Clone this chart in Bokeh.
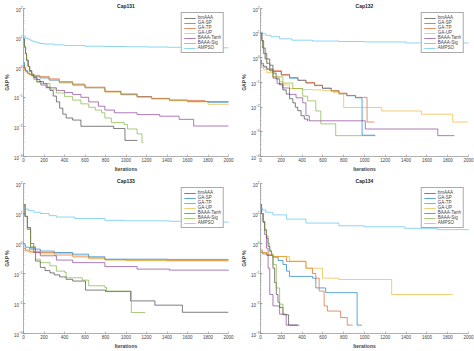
from bokeh.plotting import figure
from bokeh.layouts import column, row
from bokeh.models import Range1d, Legend, LegendItem, FixedTicker
from bokeh.embed import file_html
from bokeh.resources import INLINE

# ---------------- data (iterations, GAP %) ----------------
names = ["bmAAA", "GA-SP", "GA-TP", "GA-UP", "BAAA-Tanh", "BAAA-Sig", "AMPSO"]
colors = ["#333333", "#0072BD", "#D95319", "#EDB120", "#7E2F8E", "#77AC30", "#4DBEEE"]
x_ticks = [0, 200, 400, 600, 800, 1000, 1200, 1400, 1600, 1800, 2000]

# Cap131
c131_bmaaa_it = [0, 10, 20, 30, 45, 60, 80, 100, 130, 160, 195, 230, 258, 290, 321, 353, 384, 416, 480, 560, 880, 990, 1110]
c131_bmaaa_gap = [9, 5, 3, 1.8, 1.1, 0.8, 0.6, 0.48, 0.4, 0.34, 0.29, 0.22, 0.17, 0.11, 0.07, 0.043, 0.027, 0.02, 0.017, 0.0105, 0.0088, 0.0035, 0.0035]
c131_gasp_it = [0, 10, 20, 40, 60, 100, 160, 250, 350, 480, 600, 794, 950, 1108, 1250, 1424, 1600, 1800, 2000]
c131_gasp_gap = [1.5, 1.0, 0.8, 0.65, 0.58, 0.5, 0.45, 0.38, 0.31, 0.26, 0.21, 0.155, 0.125, 0.105, 0.09, 0.077, 0.072, 0.068, 0.066]
c131_gatp_it = [0, 10, 20, 40, 60, 100, 160, 250, 350, 480, 600, 794, 950, 1108, 1250, 1424, 1600, 1770, 2000]
c131_gatp_gap = [1.2, 0.9, 0.75, 0.65, 0.6, 0.55, 0.5, 0.42, 0.34, 0.28, 0.22, 0.16, 0.13, 0.105, 0.092, 0.082, 0.078, 0.072, 0.068]
c131_gaup_it = [0, 10, 20, 40, 60, 100, 160, 250, 350, 480, 600, 794, 950, 1108, 1250, 1424, 1600, 1800, 2000]
c131_gaup_gap = [1.0, 0.8, 0.7, 0.62, 0.58, 0.52, 0.47, 0.39, 0.32, 0.26, 0.21, 0.15, 0.12, 0.1, 0.088, 0.078, 0.07, 0.058, 0.053]
c131_tanh_it = [0, 10, 20, 30, 45, 60, 80, 100, 130, 170, 220, 321, 400, 480, 560, 636, 731, 794, 888, 1108, 1329, 1518, 1660, 2000]
c131_tanh_gap = [9, 5, 3, 1.8, 1.1, 0.75, 0.55, 0.45, 0.34, 0.26, 0.21, 0.17, 0.145, 0.125, 0.1, 0.07, 0.05, 0.037, 0.03, 0.026, 0.023, 0.018, 0.0107, 0.0107]
c131_sig_it = [0, 10, 20, 30, 45, 60, 80, 100, 130, 164, 258, 321, 400, 480, 560, 636, 700, 762, 794, 857, 983, 1014, 1108, 1156, 1170]
c131_sig_gap = [9, 5, 3, 1.8, 1.1, 0.75, 0.52, 0.4, 0.32, 0.29, 0.19, 0.14, 0.105, 0.08, 0.06, 0.046, 0.037, 0.03, 0.02, 0.014, 0.012, 0.0085, 0.0058, 0.003, 0.003]
c131_ampso_it = [0, 10, 20, 40, 60, 80, 100, 130, 160, 200, 300, 400, 600, 800, 1000, 1200, 1400, 1600, 1800, 2000]
c131_ampso_gap = [12, 11, 10, 9.3, 8.6, 8, 7.5, 7, 6.6, 6.3, 5.9, 5.6, 5.3, 5.2, 5.1, 5.0, 4.9, 4.8, 4.7, 4.6]

# Cap132
c132_bmaaa_it = [0, 15, 30, 45, 60, 89, 120, 150, 184, 215, 247, 280, 311, 335, 358, 390, 421, 453]
c132_bmaaa_gap = [10, 5, 2.5, 1.5, 0.9, 0.5, 0.24, 0.14, 0.08, 0.05, 0.034, 0.022, 0.015, 0.01, 0.0072, 0.0045, 0.0033, 0.0027]
c132_gasp_it = [0, 10, 30, 60, 120, 200, 279, 360, 437, 520, 596, 680, 754, 830, 913, 976, 977, 1103]
c132_gasp_gap = [0.8, 0.6, 0.45, 0.35, 0.28, 0.2, 0.15, 0.12, 0.095, 0.075, 0.057, 0.045, 0.035, 0.029, 0.024, 0.018, 0.00073, 0.00073]
c132_gatp_it = [0, 10, 30, 60, 120, 200, 279, 360, 437, 520, 596, 680, 754, 830, 913, 1024, 1025, 1097]
c132_gatp_gap = [0.6, 0.5, 0.42, 0.35, 0.3, 0.21, 0.16, 0.125, 0.1, 0.078, 0.06, 0.047, 0.037, 0.03, 0.025, 0.019, 0.0025, 0.0025]
c132_gaup_it = [0, 10, 30, 60, 120, 180, 215, 279, 400, 500, 596, 700, 754, 800, 1166, 1547, 1848, 2000]
c132_gaup_gap = [0.45, 0.4, 0.33, 0.25, 0.17, 0.11, 0.08, 0.057, 0.052, 0.05, 0.047, 0.04, 0.034, 0.0097, 0.007, 0.0052, 0.0025, 0.0025]
c132_tanh_it = [0, 10, 20, 30, 45, 60, 89, 120, 160, 215, 279, 342, 406, 437, 469, 1008, 1705, 1864]
c132_tanh_gap = [10, 5, 2.5, 1.5, 0.9, 0.6, 0.3, 0.15, 0.09, 0.06, 0.033, 0.024, 0.015, 0.0045, 0.0028, 0.0013, 0.0007, 0.0007]
c132_sig_it = [0, 10, 20, 30, 45, 60, 89, 120, 215, 311, 406, 453, 532, 580, 723, 1103]
c132_sig_gap = [10, 5, 2.5, 1.5, 0.9, 0.6, 0.3, 0.17, 0.095, 0.057, 0.028, 0.018, 0.007, 0.0021, 0.0007, 0.0007]
c132_ampso_it = [0, 20, 50, 100, 184, 300, 500, 754, 1000, 1400, 2000]
c132_ampso_gap = [11, 9.5, 8.2, 7.2, 5.9, 5.2, 4.8, 4.6, 4.4, 4.0, 3.7]

# Cap133
c133_bmaaa_it = [0, 15, 38, 69, 117, 164, 210, 258, 300, 353, 416, 480, 605, 800, 1045, 1282, 1550, 2000]
c133_bmaaa_gap = [20, 8, 3.4, 0.72, 0.26, 0.16, 0.125, 0.105, 0.09, 0.077, 0.064, 0.056, 0.028, 0.025, 0.0122, 0.0088, 0.0051, 0.0051]
c133_gasp_it = [0, 20, 60, 164, 300, 480, 636, 794, 1000, 1400, 2000]
c133_gasp_gap = [0.9, 0.75, 0.65, 0.56, 0.5, 0.44, 0.36, 0.3, 0.3, 0.295, 0.29]
c133_gatp_it = [0, 20, 60, 164, 300, 480, 636, 794, 1000, 1400, 2000]
c133_gatp_gap = [0.7, 0.6, 0.55, 0.5, 0.45, 0.38, 0.33, 0.29, 0.28, 0.27, 0.26]
c133_gaup_it = [0, 20, 60, 164, 300, 480, 636, 794, 1000, 1400, 2000]
c133_gaup_gap = [0.6, 0.55, 0.5, 0.45, 0.4, 0.35, 0.31, 0.28, 0.27, 0.265, 0.26]
c133_tanh_it = [0, 15, 38, 69, 100, 164, 321, 480, 794, 1108, 1424, 2000]
c133_tanh_gap = [20, 8, 3, 1.0, 0.5, 0.39, 0.28, 0.23, 0.17, 0.14, 0.13, 0.12]
c133_sig_it = [0, 15, 38, 69, 117, 164, 258, 321, 400, 416, 573, 636, 794, 810, 1052, 1187]
c133_sig_gap = [20, 8, 3, 0.8, 0.3, 0.23, 0.18, 0.12, 0.11, 0.072, 0.06, 0.039, 0.034, 0.026, 0.005, 0.005]
c133_ampso_it = [0, 20, 50, 100, 164, 250, 321, 500, 794, 1000, 1424, 1800, 2000]
c133_ampso_gap = [16, 14, 12.5, 11, 10, 8.5, 7.6, 6.8, 5.9, 5.7, 5.5, 5.2, 4.9]

# Cap134
c134_bmaaa_it = [0, 10, 25, 40, 57, 73, 89, 105, 120, 136, 152, 168, 184, 216, 270, 358]
c134_bmaaa_gap = [20, 10, 5.4, 2.8, 1.5, 0.8, 0.55, 0.4, 0.15, 0.05, 0.02, 0.011, 0.0074, 0.0042, 0.0019, 0.0019]
c134_gasp_it = [0, 20, 60, 120, 170, 216, 250, 279, 500, 532, 627, 928, 929, 976]
c134_gasp_gap = [0.5, 0.45, 0.4, 0.35, 0.27, 0.2, 0.12, 0.08, 0.07, 0.033, 0.023, 0.023, 0.0019, 0.0019]
c134_gatp_it = [0, 20, 60, 120, 250, 437, 500, 532, 564, 612, 643, 770, 834, 887]
c134_gatp_gap = [0.6, 0.5, 0.42, 0.37, 0.25, 0.15, 0.1, 0.07, 0.026, 0.0083, 0.0056, 0.0034, 0.0019, 0.0019]
c134_gaup_it = [0, 20, 60, 120, 279, 437, 596, 754, 1261, 1848]
c134_gaup_gap = [0.55, 0.5, 0.42, 0.37, 0.26, 0.15, 0.07, 0.063, 0.02, 0.02]
c134_tanh_it = [0, 10, 25, 40, 57, 73, 89, 120, 184, 247, 374]
c134_tanh_gap = [20, 10, 5, 2, 0.7, 0.15, 0.02, 0.0083, 0.0044, 0.0019, 0.0019]
c134_sig_it = [0, 10, 25, 40, 57, 73, 89, 105, 120, 152, 184, 216, 247]
c134_sig_gap = [20, 10, 5.5, 3, 1.8, 1.0, 0.6, 0.45, 0.2, 0.033, 0.0095, 0.0044, 0.0044]
c134_ampso_it = [0, 20, 50, 120, 250, 437, 754, 1000, 1388, 1700, 2000]
c134_ampso_gap = [15, 13, 11, 9, 6.5, 4.8, 3.9, 3.6, 3.2, 2.9, 2.6]

FONT = "Liberation Sans"
AX = "#7a7a7a"


def panel(title, series, ymin, ymax, w, h, bl, br, bt, bb):
    p = figure(width=w, height=h, y_axis_type="log",
               x_range=Range1d(0, 2000), y_range=Range1d(ymin, ymax),
               output_backend="svg", toolbar_location=None,
               min_border_left=bl, min_border_right=br,
               min_border_top=bt, min_border_bottom=bb)
    p.outline_line_color = None
    p.grid.visible = False
    p.background_fill_color = "white"
    p.border_fill_color = "white"
    p.title.text = title
    p.title.text_font = FONT
    p.title.text_font_size = "5px"
    p.title.text_color = "#222222"
    p.title.align = "center"
    p.title.standoff = 0
    p.title.offset = 0

    for ax in (p.xaxis[0], p.yaxis[0]):
        ax.axis_line_color = AX
        ax.axis_line_width = 0.6
        ax.major_tick_line_color = AX
        ax.minor_tick_line_color = AX
        ax.major_tick_line_width = 0.5
        ax.minor_tick_line_width = 0.4
        ax.major_tick_in = 2
        ax.major_tick_out = 0
        ax.minor_tick_in = 1
        ax.minor_tick_out = 0
        ax.major_label_text_font = FONT
        ax.major_label_text_font_size = "4.5px"
        ax.major_label_text_color = "#444444"
        ax.major_label_standoff = 1
        ax.axis_label_text_font = FONT
        ax.axis_label_text_font_size = "5px"
        ax.axis_label_text_font_style = "bold"
        ax.axis_label_standoff = 1
    p.xaxis.ticker = FixedTicker(ticks=x_ticks)
    p.xaxis.minor_tick_line_color = None
    p.xaxis.axis_label = "Iterations"
    p.yaxis.axis_label = "GAP %"

    items = []
    for (it, gap), name, col in zip(series, names, colors):
        r = p.step(it, gap, mode="after", line_color=col, line_width=0.7, line_alpha=0.9)
        items.append(LegendItem(label=name, renderers=[r]))
    leg = Legend(items=items, location="top_right")
    leg.label_text_font = FONT
    leg.label_text_font_size = "4.5px"
    leg.label_height = 4
    leg.label_standoff = 2
    leg.glyph_height = 4
    leg.glyph_width = 12
    leg.spacing = 0
    leg.padding = 2
    leg.margin = 4
    leg.border_line_color = "#555555"
    leg.border_line_width = 0.5
    leg.background_fill_alpha = 1
    p.add_layout(leg)
    return p


s131 = [(c131_bmaaa_it, c131_bmaaa_gap), (c131_gasp_it, c131_gasp_gap), (c131_gatp_it, c131_gatp_gap),
        (c131_gaup_it, c131_gaup_gap), (c131_tanh_it, c131_tanh_gap), (c131_sig_it, c131_sig_gap),
        (c131_ampso_it, c131_ampso_gap)]
s132 = [(c132_bmaaa_it, c132_bmaaa_gap), (c132_gasp_it, c132_gasp_gap), (c132_gatp_it, c132_gatp_gap),
        (c132_gaup_it, c132_gaup_gap), (c132_tanh_it, c132_tanh_gap), (c132_sig_it, c132_sig_gap),
        (c132_ampso_it, c132_ampso_gap)]
s133 = [(c133_bmaaa_it, c133_bmaaa_gap), (c133_gasp_it, c133_gasp_gap), (c133_gatp_it, c133_gatp_gap),
        (c133_gaup_it, c133_gaup_gap), (c133_tanh_it, c133_tanh_gap), (c133_sig_it, c133_sig_gap),
        (c133_ampso_it, c133_ampso_gap)]
s134 = [(c134_bmaaa_it, c134_bmaaa_gap), (c134_gasp_it, c134_gasp_gap), (c134_gatp_it, c134_gatp_gap),
        (c134_gaup_it, c134_gaup_gap), (c134_tanh_it, c134_tanh_gap), (c134_sig_it, c134_sig_gap),
        (c134_ampso_it, c134_ampso_gap)]

p1 = panel("Cap131", s131, 1e-3, 1e2, 237, 175, 16, 9, 0, 19)
p2 = panel("Cap132", s132, 1e-4, 1e2, 237, 175, 20, 6, 0, 18)
p3 = panel("Cap133", s133, 1e-3, 1e2, 237, 176, 16, 9, 6, 13)
p4 = panel("Cap134", s134, 1e-3, 1e2, 237, 176, 20, 6, 6, 13)

layout = column(row(p1, p2, spacing=0), row(p3, p4, spacing=0), spacing=0)
open("out.html", "w").write(file_html(layout, INLINE))
